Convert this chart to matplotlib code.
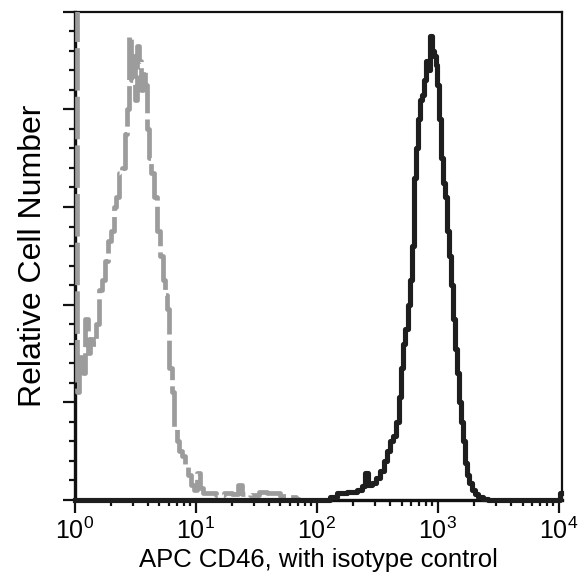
import matplotlib
matplotlib.use("Agg")
import matplotlib.pyplot as plt
from matplotlib.ticker import LogLocator, MultipleLocator, NullFormatter

plt.rcParams['font.family'] = ['Liberation Sans', 'DejaVu Sans']
plt.rcParams['mathtext.default'] = 'regular'

# isotype control (grey, dashed)
iso_x = [1.019, 1.059, 1.100, 1.142, 1.187, 1.256, 1.305, 1.382, 1.463, 1.549,
         1.640, 1.736, 1.839, 1.946, 2.061, 2.141, 2.266, 2.400, 2.541, 2.640,
         2.742, 2.848, 2.959, 3.073, 3.192, 3.317, 3.445, 3.578, 3.717, 3.862,
         4.011, 4.166, 4.412, 4.671, 4.946, 5.236, 5.440, 5.650, 5.870, 6.215,
         6.455, 6.835, 7.100, 7.516, 7.958, 8.425, 8.921, 9.445, 10.0, 10.59,
         11.21, 11.87, 13.56, 15.79, 18.39, 21.41, 23.10, 25.41, 30.73, 35.78,
         40.89, 44.98, 54.40, 62.15, 72.36]
iso_counts = [130, 22, 30, 28, 26, 37, 30, 33, 32, 36,
              43, 45, 49, 53, 55, 60, 62, 67, 68, 75,
              80, 95, 86, 91, 82, 93, 90, 84, 88, 85,
              76, 70, 67, 62, 55, 50, 45, 42, 39, 27,
              22, 15, 12, 10, 9, 7, 5, 3, 2, 5.5,
              2.5, 1.5, 1.5, 1.0, 1.5, 1.2, 3.0, 1.2, 1.0, 1.6,
              1.4, 1.5, 0.8, 0.5, 0.2]

# APC CD46 stained (black, solid)
cd46_x = [1.0, 116.5, 140.8, 155.0, 170.4, 187.4, 206.1, 226.7, 244.6, 259.0,
          274.2, 295.9, 319.2, 344.5, 371.7, 393.6, 416.8, 441.2, 467.2, 485.3,
          504.2, 523.6, 554.5, 575.9, 598.3, 621.5, 645.5, 670.5, 696.7, 723.6,
          751.6, 780.9, 811.1, 842.4, 875.2, 909.3, 944.5, 981.1, 1000, 1038.7,
          1079.2, 1121.0, 1164.4, 1209.5, 1256.6, 1305.4, 1356.0, 1408.8, 1463.3, 1520.0,
          1579.0, 1640.6, 1704.1, 1770.1, 1839.1, 1947.1, 2100.5, 2224.0, 2445.1, 2690,
          4762, 9811, 10388]
cd46_counts = [0, 0, 0.5, 1.5, 1.5, 1.6, 1.6, 2, 2.8, 5.5,
               3, 3.5, 4.5, 6, 8, 10, 12, 13, 16, 21,
               27, 32, 35, 40, 45, 52, 66, 72, 78, 82,
               83, 86, 90, 88, 95, 92, 91, 89, 85, 78,
               70, 65, 62, 55, 50, 44, 37, 31, 26, 20,
               16, 12, 7.5, 5, 3.5, 2, 1.2, 0.5, 0.2, 0,
               0, 0, 1.5]

fig = plt.figure(figsize=(5.8, 5.86), dpi=100)
ax = fig.add_axes([0.129, 0.147, 0.840, 0.833])

ax.plot(iso_x, iso_counts, drawstyle='steps-mid', color='#9c9c9c', lw=3.4,
        dashes=(9, 1.3), solid_capstyle='butt', zorder=3)
ax.plot(cd46_x, cd46_counts, drawstyle='steps-mid', color='#1e1e1e', lw=3.7,
        clip_on=False, zorder=4)

ax.set_xscale('log')
ax.set_xlim(1, 10 ** 4.025)
ax.set_ylim(0, 100)

ax.xaxis.set_major_locator(LogLocator(base=10, numticks=10))
ax.xaxis.set_minor_locator(LogLocator(base=10, subs=range(2, 10), numticks=20))
ax.xaxis.set_minor_formatter(NullFormatter())
ax.yaxis.set_major_locator(MultipleLocator(20))
ax.yaxis.set_minor_locator(MultipleLocator(4))
ax.set_yticklabels([])

ax.tick_params(which='major', direction='out', length=9, width=1.6, color='#111111')
ax.tick_params(which='minor', direction='out', length=4.5, width=1.6, color='#111111')
ax.tick_params(axis='x', labelsize=18, pad=4)

for side in ['left', 'bottom']:
    ax.spines[side].set_linewidth(2.4)
for side in ['top', 'right']:
    ax.spines[side].set_linewidth(1.6)
for s in ax.spines.values():
    s.set_color('#111111')

ax.set_xlabel('APC CD46, with isotype control', fontsize=18.5, labelpad=3)
ax.set_ylabel('Relative Cell Number', fontsize=23, labelpad=7)

fig.savefig('out.png', dpi=100)
